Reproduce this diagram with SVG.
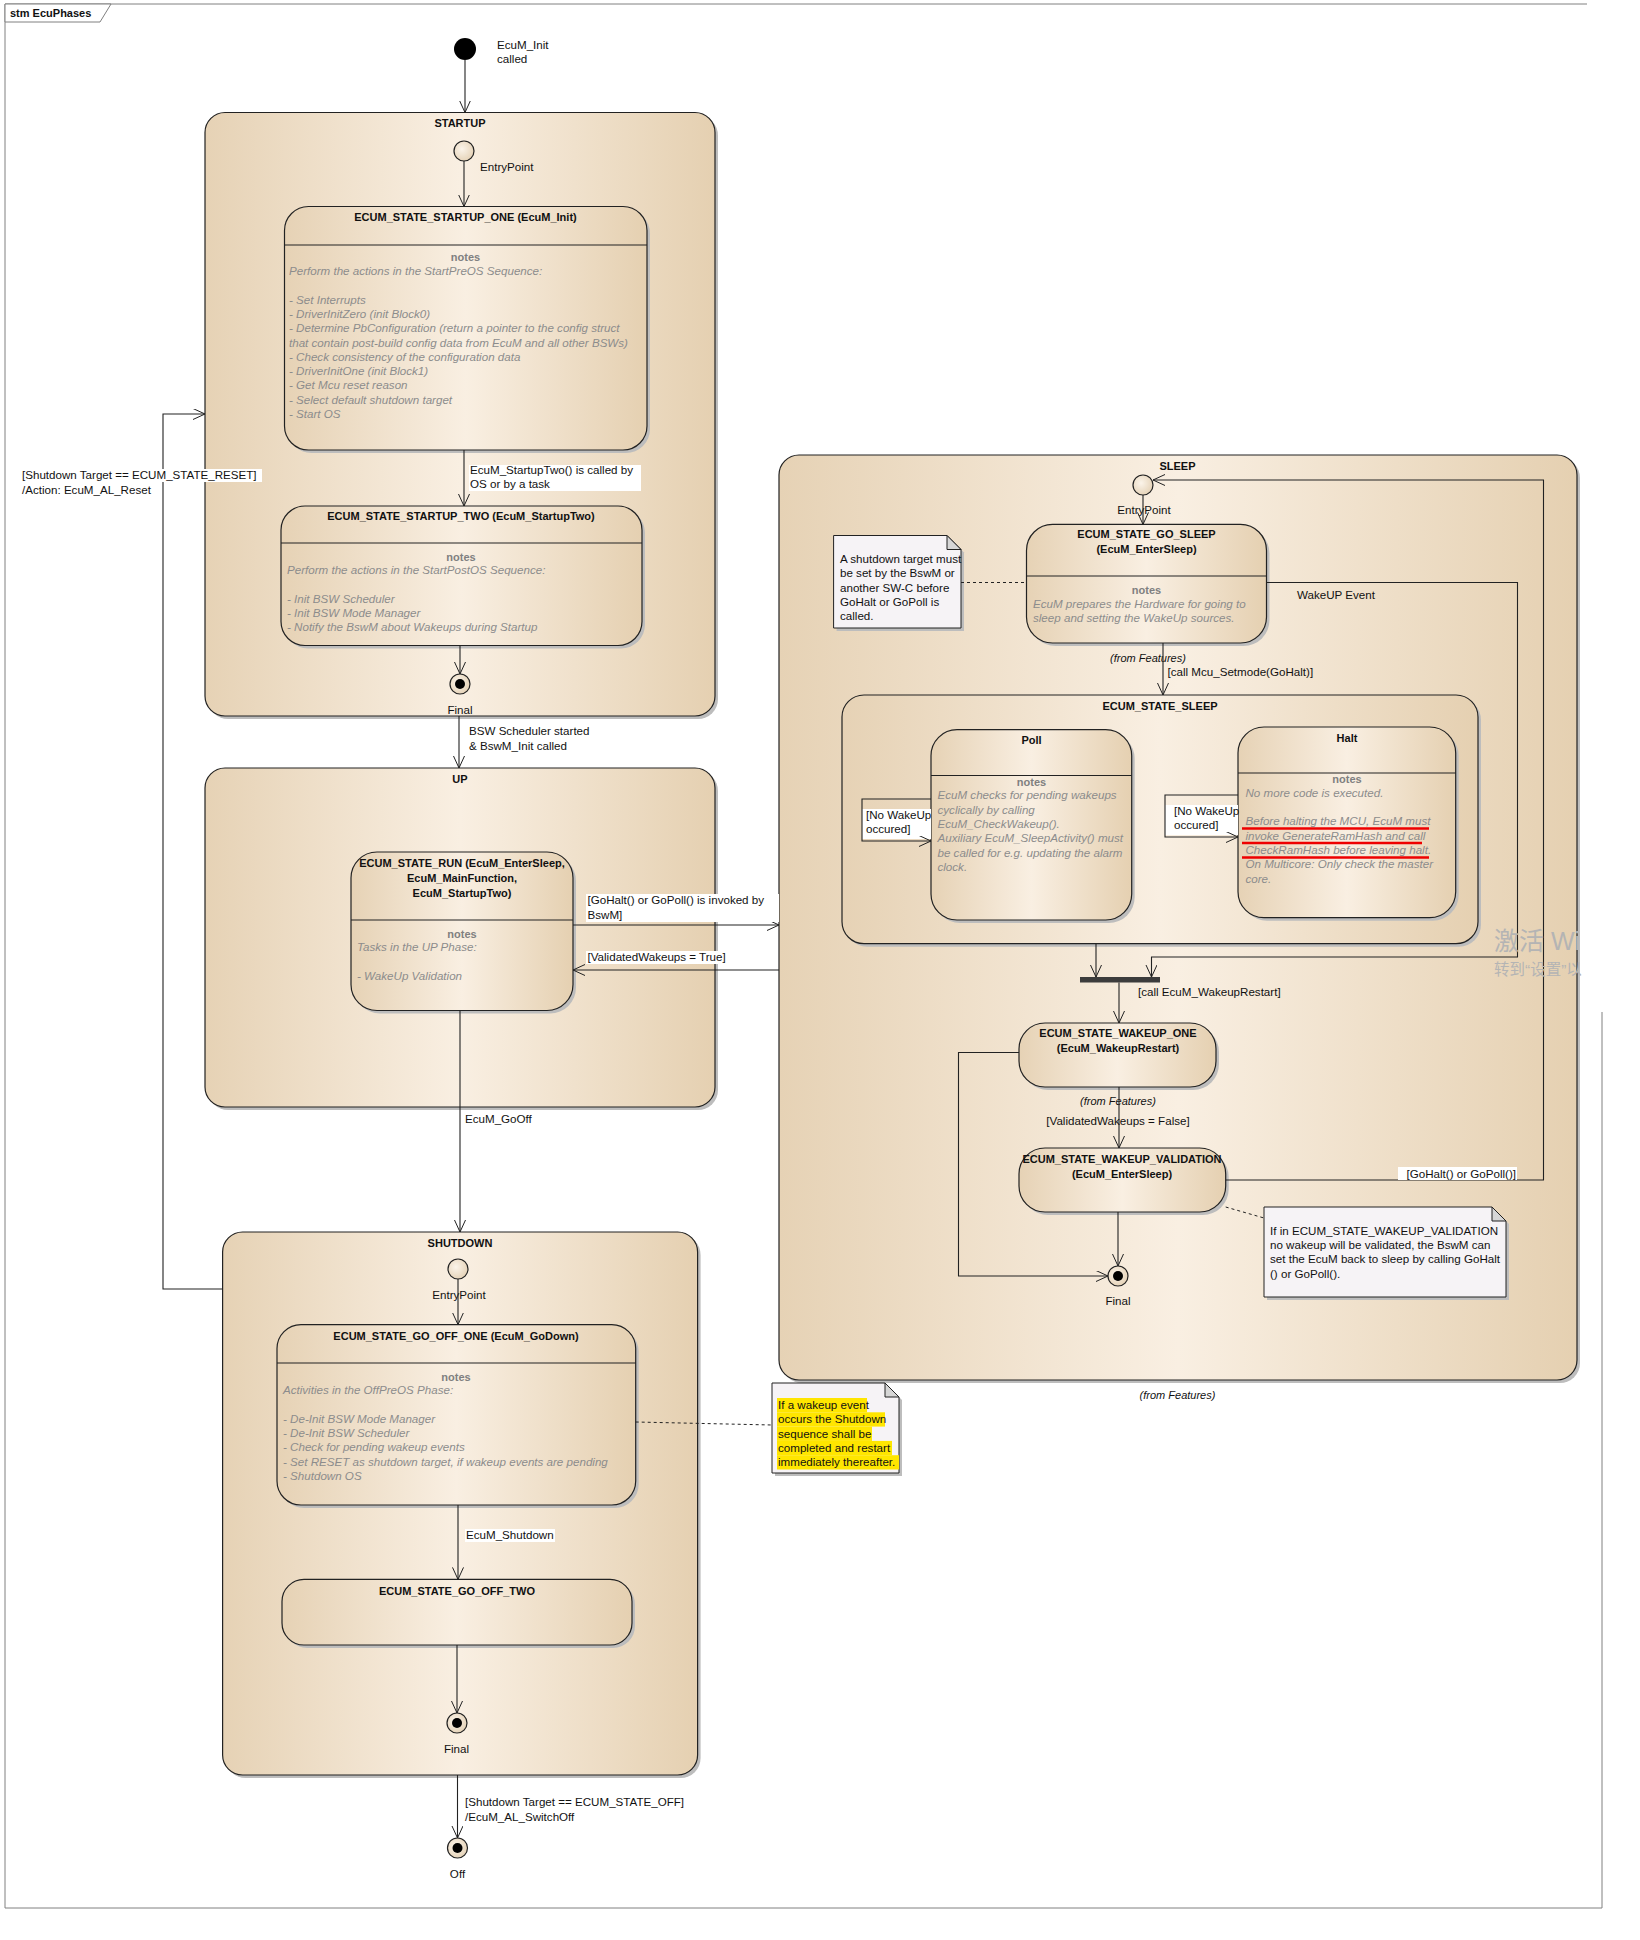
<svg xmlns="http://www.w3.org/2000/svg" width="1640" height="1940" viewBox="0 0 1640 1940">
<defs>
<linearGradient id="g" x1="0" y1="0" x2="1" y2="0">
<stop offset="0" stop-color="#e6d2b5"/>
<stop offset="0.5" stop-color="#f9efe2"/>
<stop offset="1" stop-color="#e5d0b1"/>
</linearGradient>
<radialGradient id="cg" cx="0.4" cy="0.4" r="0.7">
<stop offset="0" stop-color="#fbf4ea"/>
<stop offset="1" stop-color="#e3cfb2"/>
</radialGradient>
<marker id="a" markerUnits="userSpaceOnUse" markerWidth="14" markerHeight="12" refX="12" refY="5.5" orient="auto">
<path d="M0,0 L12,5.5 L0,11" fill="none" stroke="#222" stroke-width="1"/>
</marker>
<style>
.st{fill:url(#g);stroke:#222;stroke-width:1.2}
.sh{fill:#bdbdbd}
.dv{stroke:#222;stroke-width:1.2}
.t{font-family:"Liberation Sans",Arial,sans-serif;font-size:11.6px;fill:#111}
.b{font-weight:bold;font-size:11px}
.c{text-anchor:middle}
.i{font-style:italic;font-size:11px}
.nh{font-family:"Liberation Sans",Arial,sans-serif;font-size:11px;font-weight:bold;fill:#808080;text-anchor:middle}
.n{font-family:"Liberation Sans",Arial,sans-serif;font-size:11.6px;font-style:italic;fill:#8c8c8c}
.ln{fill:none;stroke:#222;stroke-width:1.1}
.ar{marker-end:url(#a)}
.dt{fill:none;stroke:#222;stroke-width:1;stroke-dasharray:3,3}
.lb{fill:#fff}
.note{fill:#f6f3f6;stroke:#222;stroke-width:1}
.fold{fill:#d6d6d6;stroke:#222;stroke-width:1}
.ep{fill:url(#cg);stroke:#222;stroke-width:1.2}
.hl{fill:#ffe600}
.red{stroke:#ee0000;stroke-width:2.5}
.wm{font-family:"Liberation Sans","Noto Sans CJK SC",sans-serif;fill:#b4b4b4}
</style>
</defs>
<rect x="0" y="0" width="1640" height="1940" fill="#fff"/>

<!-- frame -->
<g id="frame">
<path d="M5,4 H1587 M5,4 V1908 H1602 V1012" fill="none" stroke="#808080" stroke-width="1"/>
<path d="M5,4 H111 L100,22 H5 Z" fill="#fff" stroke="#808080" stroke-width="1"/>
<text class="t b" x="10" y="17">stm EcuPhases</text>
</g>

<!-- composite states -->
<g id="STARTUP">
<rect class="sh" x="208" y="115.5" width="510" height="603.5" rx="20"/>
<rect class="st" x="205" y="112.5" width="510" height="603.5" rx="20"/>
<text class="t b c" x="460" y="126.5">STARTUP</text>
</g>
<g id="UP">
<rect class="sh" x="208" y="771" width="510" height="339" rx="20"/>
<rect class="st" x="205" y="768" width="510" height="339" rx="20"/>
<text class="t b c" x="460" y="783">UP</text>
</g>
<g id="SHUTDOWN">
<rect class="sh" x="225.6" y="1235" width="475" height="543" rx="20"/>
<rect class="st" x="222.6" y="1232" width="475" height="543" rx="20"/>
<text class="t b c" x="460" y="1247">SHUTDOWN</text>
</g>
<g id="SLEEP">
<rect class="sh" x="782" y="458" width="798" height="925" rx="20"/>
<rect class="st" x="779" y="455" width="798" height="925" rx="20"/>
<text class="t b c" x="1177.5" y="470">SLEEP</text>
<text class="t i c" x="1177.5" y="1399">(from Features)</text>
</g>

<!-- initial -->
<g id="init">
<circle cx="465" cy="49" r="11" fill="#000"/>
<text class="t" x="497" y="48.5">EcuM_Init</text>
<text class="t" x="497" y="63">called</text>
</g>

<!-- STARTUP contents -->
<g id="startup_entry">
<circle class="ep" cx="464" cy="151" r="10"/>
<text class="t" x="480" y="171">EntryPoint</text>
</g>
<g id="ECUM_STATE_STARTUP_ONE">
<rect class="sh" x="287.5" y="209.5" width="362.5" height="243.5" rx="24"/>
<rect class="st" x="284.5" y="206.5" width="362.5" height="243.5" rx="24"/>
<line class="dv" x1="284.5" y1="245" x2="647" y2="245"/>
<text class="t b c" x="465.5" y="220.5">ECUM_STATE_STARTUP_ONE (EcuM_Init)</text>
<text class="nh" x="465.5" y="261">notes</text>
<text class="n" x="289" y="275">Perform the actions in the StartPreOS Sequence:</text>
<text class="n" x="289" y="303.6">- Set Interrupts</text>
<text class="n" x="289" y="317.9">- DriverInitZero (init Block0)</text>
<text class="n" x="289" y="332.2">- Determine PbConfiguration (return a pointer to the config struct</text>
<text class="n" x="289" y="346.5">that contain post-build config data from EcuM and all other BSWs)</text>
<text class="n" x="289" y="360.8">- Check consistency of the configuration data</text>
<text class="n" x="289" y="375.1">- DriverInitOne (init Block1)</text>
<text class="n" x="289" y="389.4">- Get Mcu reset reason</text>
<text class="n" x="289" y="403.7">- Select default shutdown target</text>
<text class="n" x="289" y="418">- Start OS</text>
</g>
<g id="ECUM_STATE_STARTUP_TWO">
<rect class="sh" x="284" y="509" width="361" height="139.5" rx="24"/>
<rect class="st" x="281" y="506" width="361" height="139.5" rx="24"/>
<line class="dv" x1="281" y1="543" x2="642" y2="543"/>
<text class="t b c" x="461" y="519.7">ECUM_STATE_STARTUP_TWO (EcuM_StartupTwo)</text>
<text class="nh" x="461" y="560.6">notes</text>
<text class="n" x="287" y="574">Perform the actions in the StartPostOS Sequence:</text>
<text class="n" x="287" y="602.6">- Init BSW Scheduler</text>
<text class="n" x="287" y="616.9">- Init BSW Mode Manager</text>
<text class="n" x="287" y="631.2">- Notify the BswM about Wakeups during Startup</text>
</g>
<g id="startup_final">
<circle class="ep" cx="460" cy="684" r="10"/>
<circle cx="460" cy="684" r="5" fill="#000"/>
<text class="t c" x="460" y="714">Final</text>
</g>

<!-- UP contents -->
<g id="ECUM_STATE_RUN">
<rect class="sh" x="354" y="855" width="222" height="158.5" rx="26"/>
<rect class="st" x="351" y="852" width="222" height="158.5" rx="26"/>
<line class="dv" x1="351" y1="920" x2="573" y2="920"/>
<text class="t b c" x="462" y="867">ECUM_STATE_RUN (EcuM_EnterSleep,</text>
<text class="t b c" x="462" y="882">EcuM_MainFunction,</text>
<text class="t b c" x="462" y="897">EcuM_StartupTwo)</text>
<text class="nh" x="462" y="938">notes</text>
<text class="n" x="357" y="951.4">Tasks in the UP Phase:</text>
<text class="n" x="357" y="980">- WakeUp Validation</text>
</g>

<!-- SHUTDOWN contents -->
<g id="shutdown_entry">
<circle class="ep" cx="458" cy="1269" r="10"/>
<text class="t c" x="459" y="1299">EntryPoint</text>
</g>
<g id="ECUM_STATE_GO_OFF_ONE">
<rect class="sh" x="280" y="1327.6" width="358.7" height="180.4" rx="24"/>
<rect class="st" x="277" y="1324.6" width="358.7" height="180.4" rx="24"/>
<line class="dv" x1="277" y1="1363" x2="635.7" y2="1363"/>
<text class="t b c" x="456" y="1339.7">ECUM_STATE_GO_OFF_ONE (EcuM_GoDown)</text>
<text class="nh" x="456" y="1380.6">notes</text>
<text class="n" x="283" y="1394">Activities in the OffPreOS Phase:</text>
<text class="n" x="283" y="1422.6">- De-Init BSW Mode Manager</text>
<text class="n" x="283" y="1436.9">- De-Init BSW Scheduler</text>
<text class="n" x="283" y="1451.2">- Check for pending wakeup events</text>
<text class="n" x="283" y="1465.5">- Set RESET as shutdown target, if wakeup events are pending</text>
<text class="n" x="283" y="1479.8">- Shutdown OS</text>
</g>
<g id="ECUM_STATE_GO_OFF_TWO">
<rect class="sh" x="285" y="1582.4" width="350" height="65.6" rx="22"/>
<rect class="st" x="282" y="1579.4" width="350" height="65.6" rx="22"/>
<text class="t b c" x="457" y="1594.5">ECUM_STATE_GO_OFF_TWO</text>
</g>
<g id="shutdown_final">
<circle class="ep" cx="457" cy="1723" r="10"/>
<circle cx="457" cy="1723" r="5" fill="#000"/>
<text class="t c" x="456.5" y="1753">Final</text>
</g>
<g id="off">
<circle class="ep" cx="457.5" cy="1848" r="10"/>
<circle cx="457.5" cy="1848" r="5" fill="#000"/>
<text class="t c" x="457.5" y="1878">Off</text>
</g>

<!-- yellow note -->
<g id="note_shutdown">
<path class="sh" d="M775,1386 H888 L902,1400 V1476 H775 Z"/>
<path class="note" d="M772,1383 H885 L899,1397 V1473 H772 Z"/>
<path class="fold" d="M885,1383 V1397 H899 Z"/>
<rect class="hl" x="777" y="1398" width="90" height="14.3"/>
<rect class="hl" x="777" y="1412.3" width="108" height="14.3"/>
<rect class="hl" x="777" y="1426.6" width="95" height="14.3"/>
<rect class="hl" x="777" y="1440.9" width="115" height="14.3"/>
<rect class="hl" x="777" y="1455.2" width="122" height="14.3"/>
<text class="t" x="778" y="1409">If a wakeup event</text>
<text class="t" x="778" y="1423.3">occurs the Shutdown</text>
<text class="t" x="778" y="1437.6">sequence shall be</text>
<text class="t" x="778" y="1451.9">completed and restart</text>
<text class="t" x="778" y="1466.2">immediately thereafter.</text>
</g>

<!-- SLEEP contents -->
<g id="sleep_entry">
<circle class="ep" cx="1143" cy="485" r="10"/>
<text class="t c" x="1144" y="513.5">EntryPoint</text>
</g>
<g id="ECUM_STATE_GO_SLEEP">
<rect class="sh" x="1029.5" y="527.4" width="240" height="118.6" rx="26"/>
<rect class="st" x="1026.5" y="524.4" width="240" height="118.6" rx="26"/>
<line class="dv" x1="1026.5" y1="576" x2="1266.5" y2="576"/>
<text class="t b c" x="1146.5" y="538">ECUM_STATE_GO_SLEEP</text>
<text class="t b c" x="1146.5" y="553">(EcuM_EnterSleep)</text>
<text class="nh" x="1146.5" y="594">notes</text>
<text class="n" x="1033" y="607.5">EcuM prepares the Hardware for going to</text>
<text class="n" x="1033" y="622">sleep and setting the WakeUp sources.</text>
<text class="t i c" x="1148" y="662">(from Features)</text>
</g>
<g id="note_sleep">
<path class="sh" d="M836.6,538.5 H950 L964,552.5 V631 H836.6 Z"/>
<path class="note" d="M833.6,535.5 H947 L961,549.5 V628 H833.6 Z"/>
<path class="fold" d="M947,535.5 V549.5 H961 Z"/>
<text class="t" x="840" y="563">A shutdown target must</text>
<text class="t" x="840" y="577.3">be set by the BswM or</text>
<text class="t" x="840" y="591.6">another SW-C before</text>
<text class="t" x="840" y="605.9">GoHalt or GoPoll is</text>
<text class="t" x="840" y="620.2">called.</text>
</g>
<g id="ECUM_STATE_SLEEP">
<rect class="sh" x="845" y="698" width="636" height="248.7" rx="22"/>
<rect class="st" x="842" y="695" width="636" height="248.7" rx="22"/>
<text class="t b c" x="1160" y="710">ECUM_STATE_SLEEP</text>
</g>
<g id="Poll">
<rect class="sh" x="934" y="732.7" width="200.7" height="190.3" rx="26"/>
<rect class="st" x="931" y="729.7" width="200.7" height="190.3" rx="26"/>
<line class="dv" x1="931" y1="775.5" x2="1131.7" y2="775.5"/>
<text class="t b c" x="1031.5" y="743.6">Poll</text>
<text class="nh" x="1031.5" y="785.6">notes</text>
<text class="n" x="937.5" y="799.3">EcuM checks for pending wakeups</text>
<text class="n" x="937.5" y="813.6">cyclically by calling</text>
<text class="n" x="937.5" y="827.9">EcuM_CheckWakeup().</text>
<text class="n" x="937.5" y="842.2">Auxiliary EcuM_SleepActivity() must</text>
<text class="n" x="937.5" y="856.5">be called for e.g. updating the alarm</text>
<text class="n" x="937.5" y="870.8">clock.</text>
</g>
<g id="Halt">
<rect class="sh" x="1241" y="730" width="217.7" height="190.7" rx="26"/>
<rect class="st" x="1238" y="727" width="217.7" height="190.7" rx="26"/>
<line class="dv" x1="1238" y1="773" x2="1455.7" y2="773"/>
<text class="t b c" x="1347" y="742.4">Halt</text>
<text class="nh" x="1347" y="783">notes</text>
<text class="n" x="1245.5" y="796.8">No more code is executed.</text>
<text class="n" x="1245.5" y="825.4">Before halting the MCU, EcuM must</text>
<text class="n" x="1245.5" y="839.7">invoke GenerateRamHash and call</text>
<text class="n" x="1245.5" y="854">CheckRamHash before leaving halt.</text>
<text class="n" x="1245.5" y="868.3">On Multicore: Only check the master</text>
<text class="n" x="1245.5" y="882.6">core.</text>
<line class="red" x1="1242" y1="828.5" x2="1429" y2="828.5"/>
<line class="red" x1="1242" y1="843" x2="1422" y2="843"/>
<line class="red" x1="1242" y1="857.5" x2="1429" y2="857.5"/>
</g>
<g id="join_bar">
<rect x="1080" y="977" width="80" height="5.5" fill="#3c3c3c"/>
</g>
<g id="ECUM_STATE_WAKEUP_ONE">
<rect class="sh" x="1022" y="1026" width="197" height="64" rx="26"/>
<rect class="st" x="1019" y="1023" width="197" height="64" rx="26"/>
<text class="t b c" x="1118" y="1037">ECUM_STATE_WAKEUP_ONE</text>
<text class="t b c" x="1118" y="1051.6">(EcuM_WakeupRestart)</text>
<text class="t i c" x="1118" y="1105">(from Features)</text>
</g>
<g id="ECUM_STATE_WAKEUP_VALIDATION">
<rect class="sh" x="1022" y="1151" width="206.7" height="64" rx="26"/>
<rect class="st" x="1019" y="1148" width="206.7" height="64" rx="26"/>
<text class="t b c" x="1122" y="1163">ECUM_STATE_WAKEUP_VALIDATION</text>
<text class="t b c" x="1122" y="1178">(EcuM_EnterSleep)</text>
</g>
<g id="sleep_final">
<circle class="ep" cx="1118" cy="1276" r="10"/>
<circle cx="1118" cy="1276" r="5" fill="#000"/>
<text class="t c" x="1118" y="1305">Final</text>
</g>
<g id="note_validation">
<path class="sh" d="M1267,1210 H1495 L1509,1224 V1300 H1267 Z"/>
<path class="note" d="M1264,1207 H1492 L1506,1221 V1297 H1264 Z"/>
<path class="fold" d="M1492,1207 V1221 H1506 Z"/>
<text class="t" x="1270" y="1234.6">If in ECUM_STATE_WAKEUP_VALIDATION</text>
<text class="t" x="1270" y="1248.9">no wakeup will be validated, the BswM can</text>
<text class="t" x="1270" y="1263.2">set the EcuM back to sleep by calling GoHalt</text>
<text class="t" x="1270" y="1277.5">() or GoPoll().</text>
</g>

<!-- connectors -->
<g id="connectors">
<path class="ln ar" d="M465,60 V112.5"/>
<path class="ln ar" d="M464,161 V206.5"/>
<path class="ln ar" d="M464,450 V506"/>
<path class="ln ar" d="M460,645.5 V674"/>
<path class="ln ar" d="M459,716 V768"/>
<path class="ln ar" d="M573,925 H779"/>
<path class="ln ar" d="M779,970 H573"/>
<path class="ln ar" d="M460,1010.5 V1232"/>
<path class="ln ar" d="M458,1279 V1324.6"/>
<path class="ln ar" d="M458,1505 V1579.4"/>
<path class="ln ar" d="M457,1645 V1713"/>
<path class="ln ar" d="M457.5,1775 V1838"/>
<path class="ln ar" d="M222.6,1289 H163 V414 H205"/>
<path class="ln ar" d="M1143,495 V524.4"/>
<path class="ln ar" d="M1163,643 V695"/>
<path class="ln ar" d="M1266.5,582.5 H1517.5 V957 H1151.5 V977"/>
<path class="ln ar" d="M1096,943.7 V977"/>
<path class="ln ar" d="M1119,982.5 V1023"/>
<path class="ln ar" d="M1119,1087 V1148"/>
<path class="ln ar" d="M1019,1052.5 H958.5 V1276 H1108"/>
<path class="ln ar" d="M1118,1212 V1266"/>
<path class="ln ar" d="M1225.7,1180 H1543.5 V480 H1153"/>
<path class="dt" d="M961,582.5 H1026.5"/>
<path class="dt" d="M635.7,1422 L772,1425"/>
<path class="dt" d="M1225.7,1207 L1264,1218"/>
<rect class="lb" x="862" y="809" width="69" height="30"/>
<rect class="lb" x="1165" y="805" width="73" height="30"/>
<path class="ln ar" d="M931,799 H862 V841 H931"/>
<path class="ln ar" d="M1238,795 H1165 V837 H1238"/>
</g>

<!-- connector labels -->
<g id="labels">
<rect class="lb" x="469" y="465" width="172" height="26"/>
<text class="t" x="470" y="474">EcuM_StartupTwo() is called by</text>
<text class="t" x="470" y="487.6">OS or by a task</text>
<text class="t" x="469" y="735">BSW Scheduler started</text>
<text class="t" x="469" y="750">&amp; BswM_Init called</text>
<rect class="lb" x="586" y="894" width="193" height="28"/>
<text class="t" x="587.5" y="904">[GoHalt() or GoPoll() is invoked by</text>
<text class="t" x="587.5" y="919">BswM]</text>
<rect class="lb" x="586" y="951" width="150" height="13"/>
<text class="t" x="587.5" y="961">[ValidatedWakeups = True]</text>
<text class="t" x="465" y="1123">EcuM_GoOff</text>
<rect class="lb" x="465" y="1529" width="90" height="13"/>
<text class="t" x="466" y="1539">EcuM_Shutdown</text>
<text class="t" x="465" y="1806">[Shutdown Target == ECUM_STATE_OFF]</text>
<text class="t" x="465" y="1821">/EcuM_AL_SwitchOff</text>
<rect class="lb" x="21" y="469" width="241" height="13"/>
<text class="t" x="22" y="479">[Shutdown Target == ECUM_STATE_RESET]</text>
<text class="t" x="22" y="494">/Action: EcuM_AL_Reset</text>
<text class="t" x="1167.5" y="675.6">[call Mcu_Setmode(GoHalt)]</text>
<text class="t" x="1297" y="599">WakeUP Event</text>
<text class="t" x="866" y="819">[No WakeUp</text>
<text class="t" x="866" y="832.7">occured]</text>
<text class="t" x="1174" y="815">[No WakeUp</text>
<text class="t" x="1174" y="829">occured]</text>
<text class="t" x="1138" y="996">[call EcuM_WakeupRestart]</text>
<text class="t c" x="1118" y="1124.5">[ValidatedWakeups = False]</text>
<rect class="lb" x="1398" y="1167" width="119" height="13"/>
<text class="t" x="1516" y="1177.7" text-anchor="end">[GoHalt() or GoPoll()]</text>
</g>

<!-- watermark -->
<g id="watermark">
<text class="wm" x="1494" y="950" font-size="25">激活 Wi</text>
<text class="wm" x="1494" y="975" font-size="15.5">转到“设置”以</text>
</g>
</svg>
